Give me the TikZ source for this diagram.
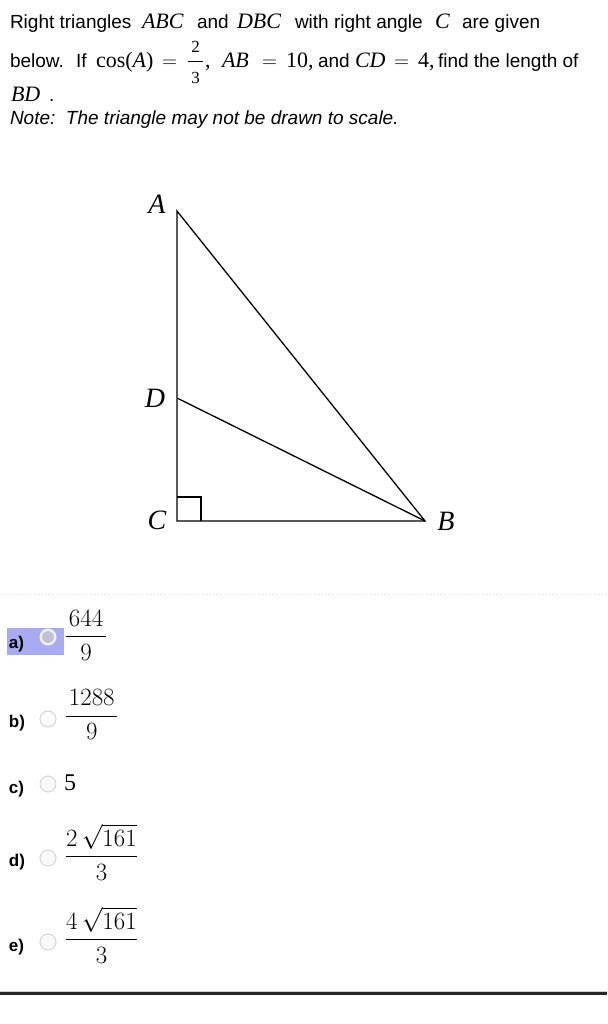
\documentclass[tikz,border=0pt]{standalone}
\usepackage{amsmath}
\usepackage{fontspec}
\setmainfont{Liberation Serif}
\setsansfont{Liberation Sans}

\definecolor{hilite}{HTML}{A8ABF2}
\definecolor{ringgray}{HTML}{D4D4D4}

\tikzset{
  txt/.style={anchor=base west,font=\sffamily\fontsize{19}{23}\selectfont},
  mth/.style={anchor=base west,font=\rmfamily\fontsize{22}{26}\selectfont},
  fracnum/.style={anchor=base,font=\rmfamily\fontsize{17}{20}\selectfont},
  vlabel/.style={font=\rmfamily\itshape\fontsize{28}{32}\selectfont},
  side/.style={line width=1.3pt,line join=miter},
  choice/.style={anchor=base west,font=\sffamily\bfseries\fontsize{17}{20}\selectfont},
  radio/.style={circle,draw=ringgray,fill=gray!4,line width=0.9pt,minimum size=16pt},
  answer/.style={anchor=base west,font=\rmfamily\fontsize{24}{28}\selectfont}
}

\begin{document}
\begin{tikzpicture}
  [x=1pt,y=-1pt,every node/.style={inner sep=0pt,outer sep=0pt}]
  \fill[white] (0,0) rectangle (607,1024);
  \useasboundingbox (0,0) rectangle (607,1024);

  % question text
  \node[txt] (q1a) at (10,29) {Right triangles};
  \node[mth] (q1b) at (142,29) {\textit{ABC}};
  \node[txt] (q1c) at (197,29) {and};
  \node[mth] (q1d) at (237,29) {\textit{DBC}};
  \node[txt] (q1e) at (295,29) {with right angle};
  \node[mth] (q1f) at (435,29) {\textit{C}};
  \node[txt] (q1g) at (462,29) {are given};

  \node[txt] (q2a) at (10,68) {below.};
  \node[txt] (q2b) at (76,68) {If};
  \node[mth] (q2c) at (96,68) {cos(\textit{A})};
  \node[mth] (q2d) at (162,68) {$=$};
  \node[fracnum] (q2num) at (195.5,53) {2};
  \node[fracnum] (q2den) at (195.5,84) {3};
  \draw[line width=0.9pt] (188,61.5) -- (203,61.5);
  \node[mth] (q2e) at (205,68) {,};
  \node[mth] (q2f) at (222,68) {\textit{AB}};
  \node[mth] (q2g) at (262,68) {$=$};
  \node[mth] (q2h) at (286,68) {10,};
  \node[txt] (q2i) at (318,68) {and};
  \node[mth] (q2j) at (355,68) {\textit{CD}};
  \node[mth] (q2k) at (394,68) {$=$};
  \node[mth] (q2l) at (418,68) {4,};
  \node[txt] (q2m) at (438,68) {find the length of};

  \node[mth] (q3a) at (11,102) {\textit{BD}};
  \node[txt] (q3b) at (49,102) {.};
  \node[txt,font=\sffamily\itshape\fontsize{19}{23}\selectfont] (q4) at (10,125)
    {Note:\ \ The triangle may not be drawn to scale.};

  % triangle
  \coordinate (A) at (177,211);
  \coordinate (D) at (177,398);
  \coordinate (C) at (177,521);
  \coordinate (B) at (425,521);

  \draw[side] (A) -- (C) -- (B) -- cycle;
  \draw[side] (D) -- (B);
  \draw[line width=1.1pt] ([yshift=24pt]C) -| ([xshift=24pt]C);

  \node[vlabel] (lA) at (157,204) {A};
  \node[vlabel] (lD) at (155,398) {D};
  \node[vlabel] (lC) at (157,520) {C};
  \node[vlabel] (lB) at (446,521) {B};

  \draw[gray!25,dotted,line width=0.8pt] (0,594) -- (607,594);

  % answer choices
  \fill[hilite] (7,628) rectangle (64,655);
  \node[choice] (ca) at (9,648) {a)};
  \node[circle,fill=white!85!hilite,minimum size=17pt] (ra) at (48,637) {};
  \node[circle,fill=gray!45!hilite!60,minimum size=12pt] (rai) at (ra) {};
  \node[answer] (fa) at (65,643) {$\dfrac{\mkern2mu 644\mkern2mu}{9}$};

  \node[choice] (cb) at (9,727) {b)};
  \node[radio] (rb) at (48,719) {};
  \node[answer] (fb) at (65,722.5) {$\dfrac{\mkern2mu 1288\mkern2mu}{9}$};

  \node[choice] (cc) at (9,793) {c)};
  \node[radio] (rc) at (48,784) {};
  \node[answer] (fc) at (64,790) {5};

  \node[choice] (cd) at (9,866) {d)};
  \node[radio] (rd) at (48,858) {};
  \node[answer] (fd) at (65,863) {$\dfrac{2\,\sqrt{161}}{3}$};

  \node[choice] (ce) at (9,951) {e)};
  \node[radio] (re) at (48,942) {};
  \node[answer] (fe) at (65,946) {$\dfrac{4\,\sqrt{161}}{3}$};

  \draw[gray!40,line width=1pt] (0,991) -- (607,991);
  \draw[black!85,line width=2.6pt] (0,993.3) -- (607,993.3);
\end{tikzpicture}
\end{document}
